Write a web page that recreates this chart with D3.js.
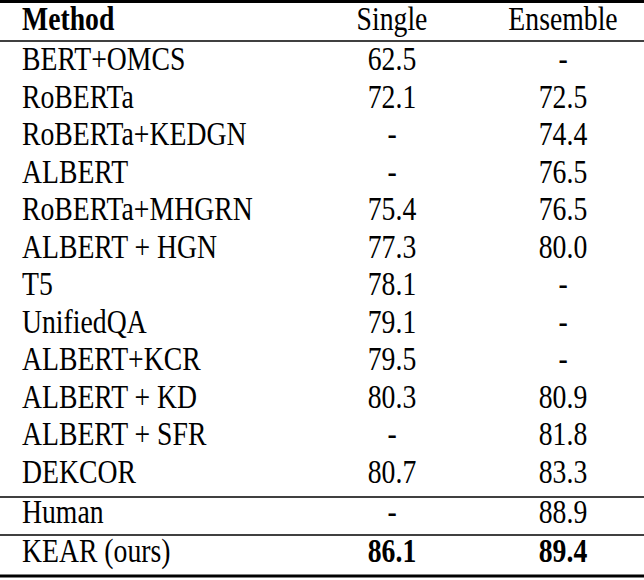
<!DOCTYPE html><html><head><script src="https://cdn.jsdelivr.net/npm/d3@7"></script>
<style>body{margin:0;background:#fff}</style></head><body><script>
const header=["Method","Single","Ensemble"];
const methods=["BERT+OMCS","RoBERTa","RoBERTa+KEDGN","ALBERT","RoBERTa+MHGRN","ALBERT + HGN","T5","UnifiedQA","ALBERT+KCR","ALBERT + KD","ALBERT + SFR","DEKCOR","Human","KEAR (ours)"];
const single=["62.5","72.1","-","-","75.4","77.3","78.1","79.1","79.5","80.3","-","80.7","-","86.1"];
const ensemble=["-","72.5","74.4","76.5","76.5","80.0","-","-","-","80.9","81.8","83.3","88.9","89.4"];
const W=644,H=580;
const svg=d3.select("body").append("svg").attr("width",W).attr("height",H);
const font="Liberation Serif, Times New Roman, serif";
const y=d3.scaleLinear().domain([0,11]).range([70,483]);
const rowY=i=>i<12?y(i):(i==12?523:562);
const fs=33, sx=0.84;
const colX=[22,392,563];
function txt(x,yy,s,anchor,bold){
  svg.append("text").attr("transform",`translate(${x},${yy}) scale(${sx},1)`).attr("text-anchor",anchor)
   .attr("font-family",font).attr("font-size",fs).attr("font-weight",bold?"bold":"normal").attr("fill","#000").text(s);
}
header.forEach((h,j)=>txt(colX[j],30,h,j?"middle":"start",j==0));
methods.forEach((m,i)=>{
  const yy=rowY(i);
  txt(colX[0],yy,m,"start",false);
  txt(colX[1],yy,single[i],"middle",i==13);
  txt(colX[2],yy,ensemble[i],"middle",i==13);
});
const line=(yy,w)=>svg.append("line").attr("x1",0).attr("x2",W).attr("y1",yy).attr("y2",yy).attr("stroke","#000").attr("stroke-width",w);
line(1.5,3);line(41,1.5);line(497,1.5);line(535,1.5);line(576,3);
</script></body></html>
